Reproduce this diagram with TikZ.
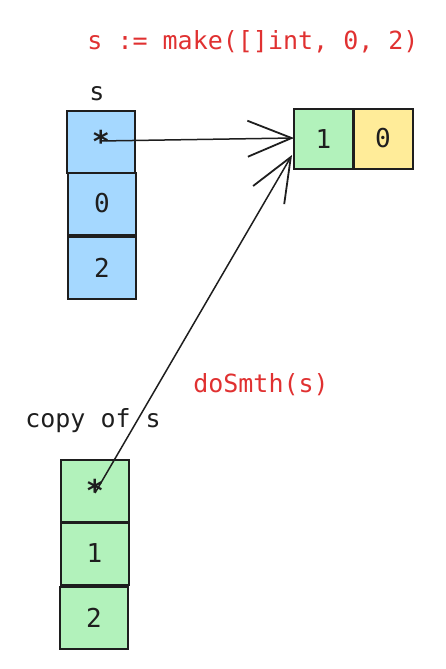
\documentclass[tikz,border=0pt]{standalone}
\usepackage{fontspec}
\setmainfont{DejaVu Sans Mono}
\usetikzlibrary{arrows.meta}
\definecolor{ink}{HTML}{1E1E1E}
\definecolor{cblue}{HTML}{A5D8FF}
\definecolor{cgreen}{HTML}{B2F2BB}
\definecolor{cyellow}{HTML}{FFEC99}
\definecolor{cred}{HTML}{E03131}
\newcommand{\starmark}{\raisebox{-7pt}{\fontsize{30}{30}\selectfont\bfseries *}}
\tikzset{
  cell/.style={draw=ink, line width=2pt, minimum width=68pt, minimum height=62pt, inner sep=0pt, font=\fontsize{26}{30}\selectfont, text=ink},
  hcell/.style={draw=ink, line width=2pt, minimum width=59pt, minimum height=60pt, inner sep=0pt, font=\fontsize{26}{30}\selectfont, text=ink},
  lbl/.style={font=\fontsize{25}{30}\selectfont, text=ink, inner sep=0pt},
  redlbl/.style={font=\fontsize{25}{30}\selectfont, text=cred, inner sep=0pt},
  ptr/.style={draw=ink, line width=1.5pt, -{Straight Barb[length=44pt,width=36pt,line width=1.8pt]}}
}
\begin{document}
\begin{tikzpicture}[x=1pt,y=-1pt]
\useasboundingbox (0,0) rectangle (445,669);
% title
\node[redlbl] (title) at (253,42) {s := make([]int, 0, 2)};
% s slice header
\node[lbl] (slbl) at (97,94) {s};
\node[cell, fill=cblue] (s1) at (101,141.5) {\starmark};
\node[cell, fill=cblue] (s2) at (102,203.5) {0};
\node[cell, fill=cblue] (s3) at (102,267.5) {2};
% backing array
\node[hcell, fill=cgreen] (a1) at (323.5,139) {1};
\node[hcell, fill=cyellow] (a2) at (383,138.5) {0};
% copy
\node[redlbl] (call) at (261,385) {doSmth(s)};
\node[lbl] (clbl) at (93,421) {copy of s};
\node[cell, fill=cgreen] (c1) at (95,490.5) {\starmark};
\node[cell, fill=cgreen] (c2) at (94.5,553.5) {1};
\node[cell, fill=cgreen] (c3) at (94,617.5) {2};
% pointers
\coordinate (p1) at (100,141);
\coordinate (p2) at (95,493);
\coordinate (t1) at (294,138);
\coordinate (t2) at (292,155);
\draw[ptr] (p1) -- (t1);
\draw[ptr] (p2) -- (t2);
\end{tikzpicture}
\end{document}
